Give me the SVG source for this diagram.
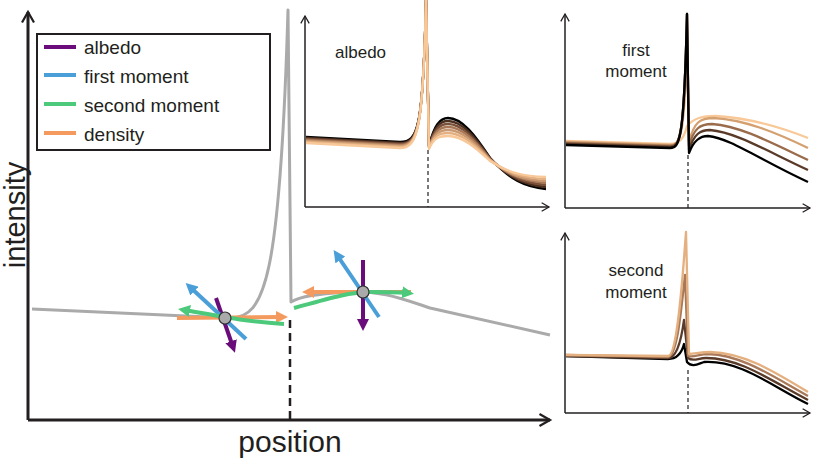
<svg xmlns="http://www.w3.org/2000/svg" width="814" height="459" viewBox="0 0 814 459">
<style>
.ax{stroke:#231f20;stroke-width:3;fill:none}
.axs{stroke:#231f20;stroke-width:1.5;fill:none}
.t{font-family:"Liberation Sans",Arial,sans-serif;fill:#231f20}
.c{fill:none;stroke-width:2.3;stroke-linejoin:round}
</style>
<defs>
<marker id="ah" viewBox="0 0 10 10" refX="8" refY="5" markerWidth="5" markerHeight="5" orient="auto"><path d="M1,1 L8,5 L1,9" fill="none" stroke="#231f20" stroke-width="1.5"/></marker>
<marker id="ahs" viewBox="0 0 10 10" refX="8" refY="5" markerWidth="7" markerHeight="7" orient="auto"><path d="M1,1 L8,5 L1,9" fill="none" stroke="#231f20" stroke-width="1.2"/></marker>
<marker id="tri" viewBox="0 0 10 10" refX="5" refY="5" markerWidth="3" markerHeight="3" orient="auto"><path d="M0,0 L10,5 L0,10Z" fill="context-stroke"/></marker>
</defs>
<rect width="814" height="459" fill="#fff"/>
<g id="main">
<path d="M32,309 L120,313 L230,318 C265,318 280,280 288,10 L291,302 C300,296 320,294 345,292 C380,290 400,298 430,308 L550,335" fill="none" stroke="#aaa" stroke-width="3" stroke-linejoin="round"/>
<path d="M290,320 L290,420" stroke="#231f20" stroke-width="2.5" stroke-dasharray="8,5"/>
<path class="ax" d="M28,420 L28,12" marker-end="url(#ah)"/>
<path class="ax" d="M28,420 L550,420" marker-end="url(#ah)"/>
<text class="t" x="25" y="215" font-size="29" text-anchor="middle" transform="rotate(-90 25 215)">intensity</text>
<text class="t" x="290" y="452" font-size="30" text-anchor="middle">position</text>
</g>
<g id="vectors1" stroke-width="4">
<line x1="216" y1="298" x2="233" y2="347" stroke="#6a0d7a" marker-end="url(#tri)"/>
<line x1="246" y1="339" x2="190" y2="287" stroke="#4a9fd8" marker-end="url(#tri)"/>
<line x1="177" y1="318" x2="282" y2="317" stroke="#f59a5e" marker-end="url(#tri)"/>
<path d="M284,324 C250,322 230,318 184,310" fill="none" stroke="#4cc97a" marker-end="url(#tri)"/>
<circle cx="225" cy="318" r="6" fill="#aaa" stroke="#333" stroke-width="1.2"/>
</g>
<g id="vectors2" stroke-width="4">
<line x1="363" y1="260" x2="363" y2="325" stroke="#6a0d7a" marker-end="url(#tri)"/>
<line x1="379" y1="317" x2="337" y2="255" stroke="#4a9fd8" marker-end="url(#tri)"/>
<line x1="411" y1="292" x2="308" y2="292" stroke="#f59a5e" marker-end="url(#tri)"/>
<path d="M294,308 C330,298 350,292 370,292 C385,292 400,292 408,293" fill="none" stroke="#4cc97a" marker-end="url(#tri)"/>
<circle cx="363" cy="292" r="6" fill="#aaa" stroke="#333" stroke-width="1.2"/>
</g>
<g id="legend">
<rect x="37" y="34" width="233" height="116" fill="#fff" stroke="#231f20" stroke-width="2"/>
<line x1="44" y1="47" x2="76" y2="47" stroke="#6a0d7a" stroke-width="4"/>
<line x1="44" y1="75" x2="76" y2="75" stroke="#4a9fd8" stroke-width="4"/>
<line x1="44" y1="104" x2="76" y2="104" stroke="#4cc97a" stroke-width="4"/>
<line x1="44" y1="133" x2="76" y2="133" stroke="#f59a5e" stroke-width="4"/>
<text class="t" x="84" y="54" font-size="19">albedo</text>
<text class="t" x="84" y="83" font-size="19">first moment</text>
<text class="t" x="84" y="112" font-size="19">second moment</text>
<text class="t" x="84" y="141" font-size="19">density</text>
</g>
<g id="panel-albedo">
<path class="axs" d="M305,207 L305,16" marker-end="url(#ahs)"/>
<path class="axs" d="M305,207 L549,207" marker-end="url(#ahs)"/>
<path d="M428,150 L428,207" stroke="#231f20" stroke-width="1.2" stroke-dasharray="4,3"/>
<text class="t" x="335" y="58" font-size="17">albedo</text>
<path class="c" stroke="#000" d="M306,137 L400,142 C418,142 423,130 426,0 L429,146 C434,125 440,118 448,118 C462,118 475,135 490,158 C510,180 525,187 546,189"/>
<path class="c" stroke="#4a2e1e" d="M306,138 L400,143 C418,143 423,130 426,0 L429,146 C434,127 440,121 448,121 C462,121 475,137 490,158 C510,179 525,185 546,187"/>
<path class="c" stroke="#7a5038" d="M306,139 L400,144 C418,144 423,130 426,0 L429,147 C434,129 440,124 448,124 C462,124 475,139 490,159 C510,178 525,183 546,185"/>
<path class="c" stroke="#a87858" d="M306,140 L400,145 C418,145 423,130 426,0 L429,147 C434,131 440,127 448,127 C462,127 475,141 490,159 C510,177 525,181 546,183"/>
<path class="c" stroke="#c99870" d="M306,141 L400,146 C418,146 423,130 426,0 L429,148 C434,133 440,130 448,130 C462,130 475,143 490,160 C510,176 525,180 546,181"/>
<path class="c" stroke="#e4b080" d="M306,142 L400,147 C418,147 423,130 426,0 L429,148 C434,135 440,133 448,133 C462,133 475,145 490,160 C510,175 525,178 546,179"/>
<path class="c" stroke="#f8c898" d="M306,143 L400,148 C418,148 423,130 426,0 L429,149 C434,137 440,136 448,136 C462,136 475,147 490,161 C510,174 525,176 546,177"/>
</g>
<g id="panel-first">
<path class="axs" d="M565,208 L565,14" marker-end="url(#ahs)"/>
<path class="axs" d="M565,208 L810,208" marker-end="url(#ahs)"/>
<path d="M688,155 L688,208" stroke="#231f20" stroke-width="1.2" stroke-dasharray="4,3"/>
<text class="t" x="636" y="56" font-size="17" text-anchor="middle">first</text>
<text class="t" x="636" y="77" font-size="17" text-anchor="middle">moment</text>
<path class="c" stroke="#f8c898" d="M566,141 L670,144 C680,144 684,138 687,126 C694,118 702,116 716,116 C748,118 778,126 808,138"/>
<path class="c" stroke="#d4a070" d="M566,142 L670,145 C680,145 684,140 687,50 L689,142 C694,122 700,118 714,118 C745,120 775,132 808,148"/>
<path class="c" stroke="#9a6c4c" d="M566,143 L670,146 C680,146 684,140 687,14 L689,146 C694,128 700,124 712,124 C740,126 770,142 808,160"/>
<path class="c" stroke="#5a3a28" d="M566,144 L670,147 C680,147 684,140 687,14 L689,150 C694,134 700,130 710,130 C735,132 765,150 808,170"/>
<path class="c" stroke="#000" d="M566,145 L670,148 C680,148 684,140 687,14 L689,153 C694,140 700,136 708,136 C730,138 760,160 808,182"/>
</g>
<g id="panel-second">
<path class="axs" d="M565,413 L565,233" marker-end="url(#ahs)"/>
<path class="axs" d="M565,413 L810,413" marker-end="url(#ahs)"/>
<path d="M688,370 L688,413" stroke="#231f20" stroke-width="1.2" stroke-dasharray="4,3"/>
<text class="t" x="636" y="276" font-size="17" text-anchor="middle">second</text>
<text class="t" x="636" y="298" font-size="17" text-anchor="middle">moment</text>
<path class="c" stroke="#000" d="M566,356 L668,359 C678,359 682,352 684,344 L687,362 C692,368 698,364 704,362 C740,360 770,385 808,404"/>
<path class="c" stroke="#5a3a28" d="M566,356 L668,358 C678,358 682,335 684,320 L688,358 C693,362 698,358 706,358 C740,358 770,380 808,400"/>
<path class="c" stroke="#a87858" d="M566,355 L668,357 C678,357 682,300 685,275 L688,356 C694,358 699,354 708,354 C742,355 772,376 808,396"/>
<path class="c" stroke="#e4b080" d="M566,355 L668,356 C678,356 683,270 686,232 L689,354 C695,354 700,352 710,352 C745,353 775,372 808,392"/>
</g>
</svg>
